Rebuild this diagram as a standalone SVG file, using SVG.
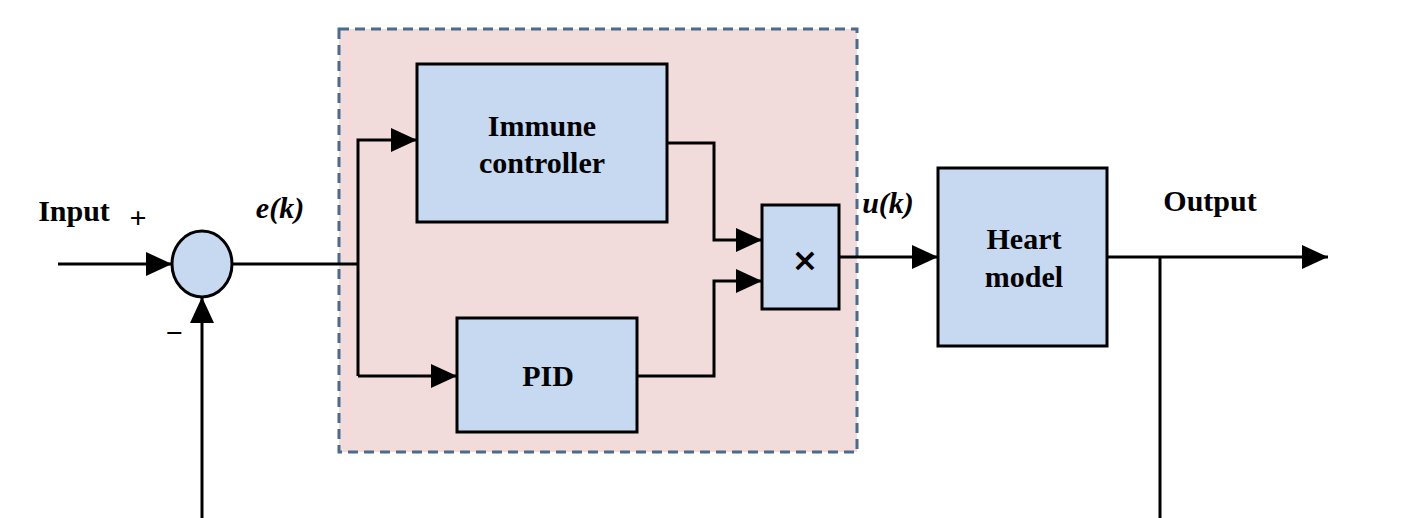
<svg xmlns="http://www.w3.org/2000/svg" width="1405" height="518" viewBox="0 0 1405 518">
<style>
.b{fill:#c6d9f1;stroke:#000;stroke-width:3}
.l{fill:none;stroke:#000;stroke-width:3}
.t{font-family:"Liberation Serif",serif;font-weight:bold;font-size:30px;text-anchor:middle}
.m{font-family:"Liberation Serif",serif;font-weight:bold;font-style:italic;font-size:30px;text-anchor:middle}
</style>
<defs><marker id="a" markerWidth="10" markerHeight="10" refX="9" refY="5" orient="auto" markerUnits="userSpaceOnUse" viewBox="0 0 10 10"><path d="M0,0L10,5L0,10z"/></marker>
<marker id="A" markerWidth="26" markerHeight="24" refX="26" refY="12" orient="auto" markerUnits="userSpaceOnUse"><path d="M0,0L26,12L0,24z"/></marker></defs>
<rect x="339" y="29" width="518" height="423" fill="#f2dcdb" stroke="#4a6a8f" stroke-width="3" stroke-dasharray="10,6"/>
<g id="connectors">
<path class="l" d="M58,264H172" marker-end="url(#A)"/>
<path class="l" d="M232,264H358"/>
<path class="l" d="M358,376V140H417" marker-end="url(#A)"/>
<path class="l" d="M358,376H457" marker-end="url(#A)"/>
<path class="l" d="M667,143H714V240H762" marker-end="url(#A)"/>
<path class="l" d="M637,376H714V281H762" marker-end="url(#A)"/>
<path class="l" d="M839,257H938" marker-end="url(#A)"/>
<path class="l" d="M1107,257H1328" marker-end="url(#A)"/>
<path class="l" d="M1160,257V518"/>
<path class="l" d="M202,518V297" marker-end="url(#A)"/>
</g>
<g id="sum"><ellipse class="b" cx="202" cy="264" rx="30" ry="33"/></g>
<g id="immune"><rect class="b" x="417" y="64" width="250" height="158"/><text class="t" x="542" y="136">Immune</text><text class="t" x="542" y="173">controller</text></g>
<g id="pid"><rect class="b" x="457" y="318" width="180" height="114"/><text class="t" x="548" y="386">PID</text></g>
<g id="mult"><rect class="b" x="762" y="205" width="77" height="104"/><text x="805" y="271" font-family="DejaVu Sans,sans-serif" font-weight="bold" font-size="32" text-anchor="middle">×</text></g>
<g id="heart"><rect class="b" x="938" y="168" width="169" height="178"/><text class="t" x="1024" y="249">Heart</text><text class="t" x="1024" y="287">model</text></g>
<text class="t" x="74" y="221">Input</text>
<text class="t" x="138" y="228" font-size="34">+</text>
<text class="t" x="174" y="343" font-size="36">−</text>
<text class="m" x="280" y="218">e(k)</text>
<text class="m" x="888" y="213">u(k)</text>
<text class="t" x="1210" y="211">Output</text>
</svg>
